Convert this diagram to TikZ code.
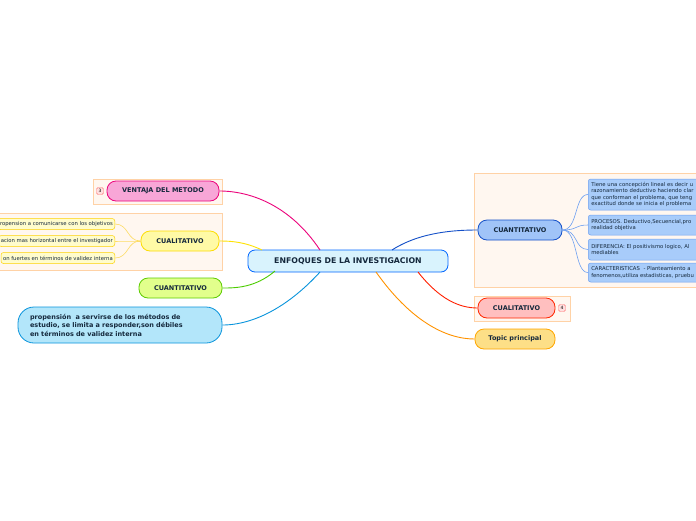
\documentclass[tikz,border=0pt]{standalone}
\usepackage{fontspec}
\setmainfont{DejaVu Sans}
\definecolor{rleaffill}{RGB}{168,204,250}
\definecolor{rleafdraw}{RGB}{110,160,240}
\definecolor{rcuanfill}{RGB}{160,196,248}
\definecolor{rcuandraw}{RGB}{20,80,200}
\definecolor{txt}{RGB}{20,40,60}
\begin{document}
\begin{tikzpicture}[x=1pt,y=-1pt,
 topic/.style={draw,rounded corners=9pt,line width=0.8pt,font=\bfseries\fontsize{6.5}{8}\selectfont,text=txt,inner sep=0pt},
 leaf/.style={draw,rounded corners=2.5pt,line width=0.5pt,font=\fontsize{5.3}{6.3}\selectfont,text=txt,inner sep=2pt,align=left,anchor=west},
 frame/.style={draw=orange!35,fill=orange!6,line width=0.5pt},
 badge/.style={draw=pink!60!red,fill=pink!50,rounded corners=1.5pt,font=\fontsize{4.5}{5}\selectfont,inner sep=1pt,minimum width=7pt,minimum height=7pt},
 con/.style={line width=0.9pt}]
\clip (0,0) rectangle (696,520);
\useasboundingbox (0,0) rectangle (696,520);
\fill[white] (0,0) rectangle (696,520);
% frames
\draw[frame] (93,179) rectangle (222,204);
\draw[frame] (-2,213) rectangle (222,270);
\draw[frame] (474,173) rectangle (700,287);
\draw[frame] (474,296) rectangle (570,321);
% main
\node[topic,fill=cyan!15,draw=blue!60!cyan,minimum width=200pt,minimum height=22pt,rounded corners=7pt,font=\bfseries\fontsize{7.8}{9}\selectfont] (main) at (348,261) {ENFOQUES DE LA INVESTIGACION};
% left nodes
\node[topic,fill=magenta!35,draw=magenta!85!red,minimum width=112pt,minimum height=20pt] (ven) at (163,191) {VENTAJA DEL METODO};
\node[badge] (b3) at (100,191) {3};
\node[topic,fill=yellow!35,draw=yellow!80!orange,minimum width=78pt,minimum height=20pt] (cual) at (180,241) {CUALITATIVO};
\node[topic,fill=lime!45,draw=lime!60!green!80!black,minimum width=83pt,minimum height=20pt] (cuan) at (180.5,288) {CUANTITATIVO};
\node[topic,fill=cyan!30,draw=cyan!80!blue,minimum width=204pt,minimum height=36pt,rounded corners=16pt,align=left,text width=180pt,font=\bfseries\fontsize{6.5}{8.5}\selectfont] (prop) at (120,325) {propensión\ \ a servirse de los métodos de\\estudio, se limita a responder,son débiles\\en términos de validez interna};
% left leaves
\tikzset{lleaf/.style={leaf,fill=yellow!20,draw=yellow!70!orange,anchor=east,minimum height=11pt}}
\node[lleaf] (l1) at (115,224) {ropension a comunicarse con los objetivos};
\node[lleaf] (l2) at (115,241) {acion mas horizontal entre el investigador};
\node[lleaf] (l3) at (115,258) {on fuertes en términos de validez interna};
\foreach \l in {l1,l2,l3} \draw[yellow!60!orange!60,line width=0.6pt] (cual.west) .. controls +(-14,0) and +(14,0) .. (\l.east);
% right nodes
\node[topic,fill=rcuanfill,draw=rcuandraw,minimum width=84pt,minimum height=20pt] (rcuan) at (520,230) {CUANTITATIVO};
\node[topic,fill=red!25,draw=red!70!orange,minimum width=77pt,minimum height=20pt] (rcual) at (516.5,308) {CUALITATIVO};
\node[badge] (b4) at (562,308) {4};
\node[topic,fill=yellow!50!orange!45,draw=orange!70!yellow,minimum width=80pt,minimum height=20pt] (top) at (515,339) {Topic principal};
% right leaves
\tikzset{rleaf/.style={leaf,fill=rleaffill,draw=rleafdraw,minimum width=130pt,text width=124pt}}
\node[rleaf,minimum height=31pt] (r1) at (588,194.5) {Tiene una concepción lineal es decir u\\razonamiento deductivo haciendo clar\\que conforman el problema, que teng\\exactitud donde se inicia el problema};
\node[rleaf,minimum height=20pt] (r2) at (588,225) {PROCESOS. Deductivo,Secuencial,pro\\realidad objetiva};
\node[rleaf,minimum height=21pt] (r3) at (588,249.5) {DIFERENCIA: El positivismo logico, Al\\mediables};
\node[rleaf,minimum height=19pt] (r4) at (588,272.5) {CARACTERISTICAS\ \ - Planteamiento a\\fenomenos,utiliza estadisticas, pruebu};
\foreach \r in {r1,r2,r3,r4} \draw[rleafdraw,line width=0.6pt] (rcuan.east) .. controls +(16,0) and +(-14,0) .. (\r.west);
% connectors
\draw[con,magenta!85!red] (320,250) .. controls (290,205) and (250,191) .. (ven.east);
\draw[con,yellow!85!orange] (262,250) .. controls (245,242) and (232,241) .. (cual.east);
\draw[con,lime!50!green!80!black] (275,271) .. controls (255,288) and (235,288) .. (cuan.east);
\draw[con,cyan!80!blue] (320,272) .. controls (290,305) and (255,325) .. (prop.east);
\draw[con,rcuandraw] (392,250) .. controls (420,232) and (455,230) .. (rcuan.west);
\draw[con,red!75!orange] (418,272) .. controls (440,300) and (460,308) .. (rcual.west);
\draw[con,orange!85!yellow] (376,272) .. controls (410,320) and (445,339) .. (top.west);
\end{tikzpicture}
\end{document}
